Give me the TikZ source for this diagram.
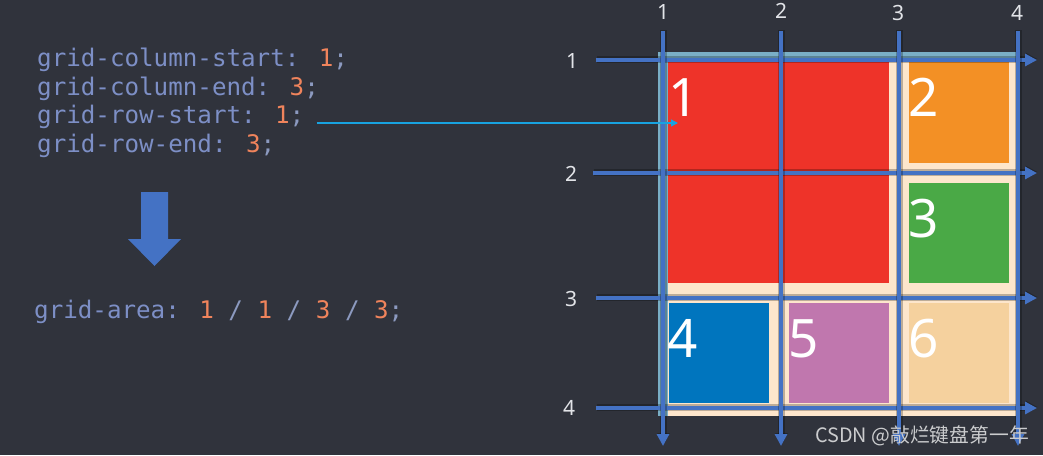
\documentclass[tikz,border=0pt]{standalone}
\usepackage{fontspec}
\setmainfont{Noto Sans}
\newfontfamily\codefont{DejaVu Sans Mono}
\newfontfamily\cjkfont{Noto Sans CJK SC}
\usetikzlibrary{arrows.meta,calc}

\definecolor{bgDark}{HTML}{30333C}
\definecolor{keyBlue}{HTML}{7D8FC6}
\definecolor{valOrange}{HTML}{F0845C}
\definecolor{punctGray}{HTML}{8C9AC0}
\definecolor{lineBlue}{HTML}{4472C4}
\definecolor{pointerCyan}{HTML}{18A3E0}
\definecolor{boxPeach}{HTML}{FDE6CC}
\definecolor{boxTeal}{HTML}{7AAFC6}
\definecolor{itemRed}{HTML}{EE3329}
\definecolor{itemOrange}{HTML}{F39025}
\definecolor{itemGreen}{HTML}{4AA946}
\definecolor{itemBlue}{HTML}{0075BE}
\definecolor{itemPurple}{HTML}{C077AE}
\definecolor{itemTan}{HTML}{F5D19E}
\definecolor{labelWhite}{HTML}{E2E4E8}

\newcommand{\cssval}[1]{\textcolor{valOrange}{#1}}
\newcommand{\csspun}[1]{\textcolor{punctGray}{#1}}

\tikzset{%
  % Specifications for the css text:
      codeline/.style = {anchor=base west, inner sep=0pt, text=keyBlue,
                         font=\codefont\fontsize{24.2}{29}\selectfont},
  % Specifications for the grid and its items:
       gridbox/.style = {rectangle, anchor=north west, inner sep=0pt, outer sep=0pt,
                         fill=boxPeach},
          item/.style = {gridbox, minimum width=100pt, minimum height=100pt},
       itemNum/.style = {anchor=base west, inner sep=0pt, text=white,
                         font=\fontsize{53}{60}\selectfont},
     lineLabel/.style = {inner sep=0pt, text=labelWhite,
                         font=\fontsize{21}{24}\selectfont},
      gridline/.style = {draw=lineBlue, line width=4pt,
                         -{Triangle[length=12pt,width=12pt]},
                         preaction={draw=black, opacity=0.25, line width=7pt,
                                    transform canvas={shift={(0.5pt,1pt)}}}},
       pointer/.style = {draw=pointerCyan, line width=1.3pt,
                         -{Triangle[length=7pt,width=7pt]}},
}

\begin{document}
\begin{tikzpicture}[x=1pt, y=-1pt]
  \fill[bgDark] (0,0) rectangle (1043,455);

  % css properties on the left
  \node (colStart) [codeline] at (37,66)  {grid-column-start: \cssval{1}\csspun{;}};
  \node (colEnd)   [codeline] at (37,95)  {grid-column-end: \cssval{3}\csspun{;}};
  \node (rowStart) [codeline] at (37,123) {grid-row-start: \cssval{1}\csspun{;}};
  \node (rowEnd)   [codeline] at (37,152) {grid-row-end: \cssval{3}\csspun{;}};
  \node (gridArea) [codeline] at (34,318)
        {grid-area: \cssval{1} \csspun{/} \cssval{1} \csspun{/} \cssval{3} \csspun{/} \cssval{3}\csspun{;}};

  % big arrow between the two forms
  \fill[lineBlue] (141,192) -- (168,192) -- (168,239) -- (181,239) -- (154.5,266)
                  -- (128,239) -- (141,239) -- cycle;

  % grid container with its items
  \node (container) [gridbox, minimum width=360pt, minimum height=364pt] at (658,52) {};
  \fill[boxTeal] (container.north west) rectangle ($(container.north east)+(0,10)$);
  \fill[boxTeal] (container.north west) rectangle ($(container.south west)+(10,0)$);

  \node (item1) [item, fill=itemRed, minimum width=221pt, minimum height=221pt] at (668,62) {};
  \node (item2) [item, fill=itemOrange, minimum height=101pt] at (909,62) {};
  \node (item3) [item, fill=itemGreen]  at (909,183) {};
  \node (item4) [item, fill=itemBlue]   at (669,303) {};
  \node (item5) [item, fill=itemPurple] at (789,303) {};
  \node (item6) [item, fill=itemTan]    at (909,303) {};

  \node (num1) [itemNum] at ($(item1.north west)+(0,54)$)  {1};
  \node (num2) [itemNum] at ($(item2.north west)+(-1,54)$) {2};
  \node (num3) [itemNum] at ($(item3.north west)+(-1,54)$) {3};
  \node (num4) [itemNum] at ($(item4.north west)+(-2,54)$) {4};
  \node (num5) [itemNum] at ($(item5.north west)+(-1,54)$) {5};
  \node (num6) [itemNum] at ($(item6.north west)+(-1,54)$) {6};

  % grid line numbers
  \node (colLab1) [lineLabel] at (663,12)  {1};
  \node (colLab2) [lineLabel] at (781,11)  {2};
  \node (colLab3) [lineLabel] at (898,13)  {3};
  \node (colLab4) [lineLabel] at (1017,13) {4};
  \node (rowLab1) [lineLabel] at (572,61)  {1};
  \node (rowLab2) [lineLabel] at (571,174) {2};
  \node (rowLab3) [lineLabel] at (571,299) {3};
  \node (rowLab4) [lineLabel] at (569,408) {4};

  % grid lines
  \coordinate (rowFrom1) at (596,60);   \coordinate (rowTo1) at (1037,60);
  \coordinate (rowFrom2) at (593,173);  \coordinate (rowTo2) at (1037,173);
  \coordinate (rowFrom3) at (596,298);  \coordinate (rowTo3) at (1037,298);
  \coordinate (rowFrom4) at (596,408);  \coordinate (rowTo4) at (1037,408);
  \coordinate (colFrom1) at (663,31);   \coordinate (colTo1) at (663,446);
  \coordinate (colFrom2) at (781,31);   \coordinate (colTo2) at (781,446);
  \coordinate (colFrom3) at (899,31);   \coordinate (colTo3) at (899,446);
  \coordinate (colFrom4) at (1018,31);  \coordinate (colTo4) at (1018,446);

  \draw[gridline] (rowFrom1) -- (rowTo1);
  \draw[gridline] (rowFrom2) -- (rowTo2);
  \draw[gridline] (rowFrom3) -- (rowTo3);
  \draw[gridline] (rowFrom4) -- (rowTo4);
  \draw[gridline] (colFrom1) -- (colTo1);
  \draw[gridline] (colFrom2) -- (colTo2);
  \draw[gridline] (colFrom3) -- (colTo3);
  \draw[gridline] (colFrom4) -- (colTo4);

  % pointer from the css to the first item
  \draw[pointer, shorten <=12pt] (rowStart.base east)
        -- ($(item1.west |- rowStart.base east)+(10,0)$);

  \node (watermark) [anchor=base west, inner sep=0pt, text=white!75!bgDark,
                     font=\cjkfont\fontsize{19.8}{23}\selectfont] at (815,442)
                    {CSDN @敲烂键盘第一年};
\end{tikzpicture}
\end{document}
